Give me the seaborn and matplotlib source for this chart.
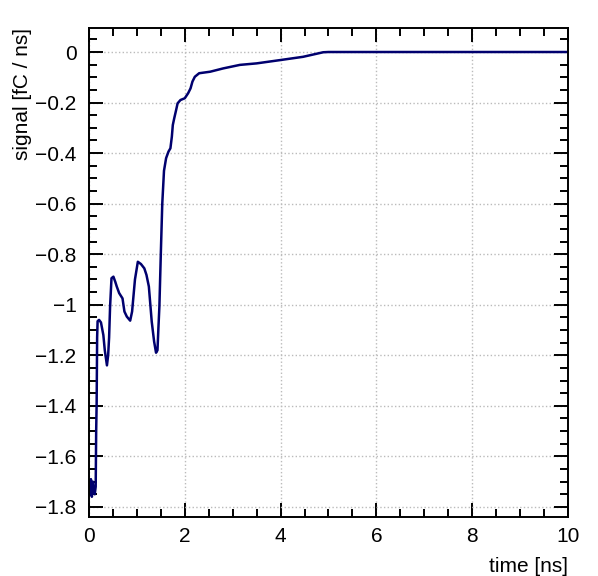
import numpy as np
import pandas as pd
import matplotlib
matplotlib.use('Agg')
import matplotlib.pyplot as plt
from matplotlib.ticker import MultipleLocator, FuncFormatter
import seaborn as sns

# Signal trace
time_ns = [0.00, 0.02, 0.04, 0.06, 0.08, 0.10, 0.12, 0.14, 0.15, 0.16, 0.17, 0.18,
           0.21, 0.25, 0.28, 0.30, 0.33, 0.375, 0.40, 0.42, 0.44, 0.47, 0.51, 0.55,
           0.58, 0.63, 0.70, 0.74, 0.79, 0.86, 0.90, 0.96, 1.02, 1.085, 1.155, 1.20,
           1.25, 1.31, 1.36, 1.40, 1.43, 1.45, 1.47, 1.50, 1.53, 1.566, 1.61, 1.66,
           1.70, 1.73, 1.75, 1.78, 1.82, 1.85, 1.91, 2.00, 2.07, 2.12, 2.16, 2.21,
           2.30, 2.53, 2.80, 3.15, 3.50, 3.99, 4.47, 4.89, 5.00, 10.00]
signal = [-1.72, -1.75, -1.69, -1.76, -1.70, -1.74, -1.75, -1.72, -1.50, -1.39, -1.13, -1.065,
          -1.06, -1.07, -1.10, -1.12, -1.18, -1.24, -1.20, -1.13, -1.01, -0.895, -0.889, -0.91,
          -0.928, -0.954, -0.975, -1.027, -1.047, -1.063, -1.027, -0.90, -0.83, -0.839, -0.856, -0.882,
          -0.928, -1.067, -1.146, -1.19, -1.18, -1.09, -1.007, -0.796, -0.60, -0.47, -0.42, -0.394,
          -0.381, -0.335, -0.289, -0.262, -0.229, -0.203, -0.19, -0.183, -0.163, -0.144, -0.117, -0.098,
          -0.084, -0.078, -0.065, -0.051, -0.045, -0.032, -0.019, -0.001, 0.0, 0.0]

df = pd.DataFrame({'time': time_ns, 'signal': signal})

sns.set_style('ticks')
plt.rcParams['font.family'] = ['Liberation Sans', 'DejaVu Sans']

fig = plt.figure(figsize=(5.98, 5.76), dpi=100)
ax = fig.add_axes([0.1488, 0.1024, 0.8010, 0.8490])

sns.lineplot(data=df, x='time', y='signal', ax=ax, color='#00006e',
             linewidth=1.8, sort=False, estimator=None)

ax.set_xlim(0, 10)
ax.set_ylim(-1.84, 0.095)
ax.xaxis.set_major_locator(MultipleLocator(2))
ax.xaxis.set_minor_locator(MultipleLocator(0.5))
ax.yaxis.set_major_locator(MultipleLocator(0.2))
ax.yaxis.set_minor_locator(MultipleLocator(0.05))

# ROOT-style labels: "0", "-1", "-0.2"
root_fmt = FuncFormatter(lambda v, pos: '{:g}'.format(round(v, 6) + 0.0).replace('-', '\u2212'))
ax.xaxis.set_major_formatter(root_fmt)
ax.yaxis.set_major_formatter(root_fmt)

ax.grid(True, which='major', linestyle=':', color='#bbbbbb', linewidth=1.0)
ax.tick_params(which='both', direction='in', top=True, right=True,
               labelsize=15, width=1.4, colors='black')
ax.tick_params(which='major', length=10)
ax.tick_params(which='minor', length=5.5)
ax.tick_params(axis='x', pad=7)
ax.tick_params(axis='y', pad=9)
for s in ax.spines.values():
    s.set_linewidth(1.4)
    s.set_color('black')

ax.set_xlabel('time [ns]', fontsize=15, loc='right', labelpad=8, color='black')
ax.set_ylabel('signal [fC / ns]', fontsize=15, loc='top', labelpad=2, color='black')

fig.savefig('out.png', dpi=100)
